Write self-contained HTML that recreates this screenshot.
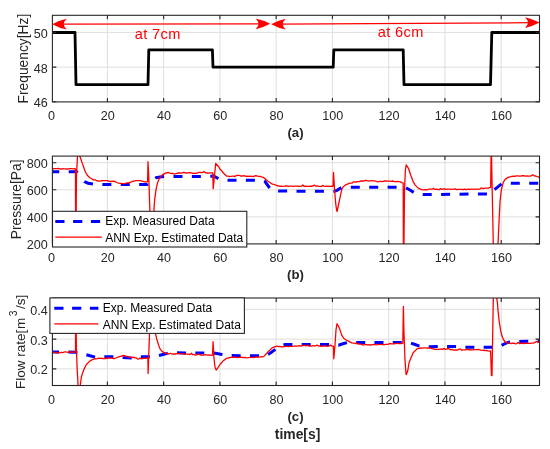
<!DOCTYPE html><html><head><meta charset="utf-8"><title>Figure</title><style>html,body{margin:0;padding:0;background:#fff;width:550px;height:449px;overflow:hidden}svg{display:block}text{font-family:'Liberation Sans', Arial, Helvetica, sans-serif}</style></head><body>
<svg width="550" height="449" viewBox="0 0 550 449">
<rect width="550" height="449" fill="#fff"/>
<defs>
<clipPath id="c0"><rect x="52.4" y="15.3" width="487.1" height="86.6"/></clipPath>
<clipPath id="c1"><rect x="52.4" y="156.1" width="487.1" height="87.8"/></clipPath>
<clipPath id="c2"><rect x="52.4" y="298" width="487.1" height="87.5"/></clipPath>
</defs>
<path d="M107.4 15.3V101.9M163.66 15.3V101.9M219.91 15.3V101.9M276.17 15.3V101.9M332.43 15.3V101.9M388.69 15.3V101.9M444.95 15.3V101.9M501.2 15.3V101.9M52.4 67.1H539.5M52.4 32.4H539.5" stroke="#dedede" stroke-width="1" fill="none"/>
<polyline clip-path="url(#c0)" points="52.4,32.5 75,32.5 76,84.6 148,84.6 148.8,49.9 212.4,49.9 213,67.2 333.2,67.2 333.8,49.9 403.2,49.9 404,84.6 490.5,84.6 491.8,32.5 539.4,32.5" fill="none" stroke="#000" stroke-width="2.8" stroke-linejoin="round"/>
<rect x="52.4" y="15.3" width="487.1" height="86.6" fill="none" stroke="#262626" stroke-width="1.1"/>
<path d="M107.4 101.9v-3.9M107.4 15.3v3.9M163.66 101.9v-3.9M163.66 15.3v3.9M219.91 101.9v-3.9M219.91 15.3v3.9M276.17 101.9v-3.9M276.17 15.3v3.9M332.43 101.9v-3.9M332.43 15.3v3.9M388.69 101.9v-3.9M388.69 15.3v3.9M444.95 101.9v-3.9M444.95 15.3v3.9M501.2 101.9v-3.9M501.2 15.3v3.9M52.4 101.8h3.9M539.5 101.8h-3.9M52.4 67.1h3.9M539.5 67.1h-3.9M52.4 32.4h3.9M539.5 32.4h-3.9" stroke="#262626" stroke-width="1.1" fill="none"/>
<g font-size="12.6" fill="#262626">
<text x="51.6" y="120.1" text-anchor="middle">0</text>
<text x="107.7" y="120.1" text-anchor="middle">20</text>
<text x="163.96" y="120.1" text-anchor="middle">40</text>
<text x="220.21" y="120.1" text-anchor="middle">60</text>
<text x="276.47" y="120.1" text-anchor="middle">80</text>
<text x="332.73" y="120.1" text-anchor="middle">100</text>
<text x="388.99" y="120.1" text-anchor="middle">120</text>
<text x="445.25" y="120.1" text-anchor="middle">140</text>
<text x="501.5" y="120.1" text-anchor="middle">160</text>
<text x="47.8" y="107.2" text-anchor="end">46</text>
<text x="47.8" y="72.5" text-anchor="end">48</text>
<text x="47.8" y="37.8" text-anchor="end">50</text>
</g>
<line x1="60" y1="24.1" x2="262" y2="23.8" stroke="#ff0000" stroke-width="1.25"/>
<path d="M52.2 24.2 Q59.4 20.3 66.8 18.8 Q63.8 21.6 63.8 24.2 Q63.8 26.8 66.8 29.6 Q59.4 28.1 52.2 24.2Z" fill="#ff0000"/>
<path d="M270.2 23.8 Q263 19.9 255.6 18.4 Q258.6 21.2 258.6 23.8 Q258.6 26.4 255.6 29.2 Q263 27.7 270.2 23.8Z" fill="#ff0000"/>
<line x1="279" y1="24.1" x2="531" y2="22.7" stroke="#ff0000" stroke-width="1.25"/>
<path d="M271.2 24.2 Q278.4 20.3 285.8 18.8 Q282.8 21.6 282.8 24.2 Q282.8 26.8 285.8 29.6 Q278.4 28.1 271.2 24.2Z" fill="#ff0000"/>
<path d="M539.6 22.6 Q532.4 18.7 525 17.2 Q528 20 528 22.6 Q528 25.2 525 28 Q532.4 26.5 539.6 22.6Z" fill="#ff0000"/>
<text x="134.8" y="39" font-size="14.6" letter-spacing="0.35" fill="#ff0000">at 7cm</text>
<text x="377.8" y="36.8" font-size="14.6" letter-spacing="0.35" fill="#ff0000">at 6cm</text>
<text x="295.5" y="136.9" font-size="13.2" font-weight="bold" fill="#262626" text-anchor="middle">(a)</text>
<text transform="translate(27.9,58.6) rotate(-90)" font-size="13.8" fill="#262626" text-anchor="middle">Frequency[Hz]</text>
<path d="M107.4 156.1V243.9M163.66 156.1V243.9M219.91 156.1V243.9M276.17 156.1V243.9M332.43 156.1V243.9M388.69 156.1V243.9M444.95 156.1V243.9M501.2 156.1V243.9M52.4 216.9H539.5M52.4 189.8H539.5M52.4 162.7H539.5" stroke="#dedede" stroke-width="1" fill="none"/>
<g clip-path="url(#c1)">
<polyline points="52.4,171.7 75.5,171.8 77,172.2 79,174.5" fill="none" stroke="#0000ff" stroke-width="3" stroke-dasharray="9 9.4" stroke-dashoffset="2.1"/>
<polyline points="79,174.5 81,177.5 84.4,181.6 88,183.2 93,184 102,184.4 110,184.4 120,184.5 147,184.6 149,183 152,180 156,177.8 160,177 165.4,176.4 175,176.5 200,176.5 212,176.3 213,175.7 216,177.3 219,179 222,180 228.5,180.3 255,180.3 263.6,180.6 264.7,181.2 270.7,189.4 274,190.6 278.3,191.1 332.3,191.2 334.5,191.2 337,190.3 339,189 341.7,187.5 351.2,187.2 368.8,187.3 397.2,187.3 403.5,187.5 405.9,187.8 410,190 415.2,193.3 419,194.3 422.8,194.6 433,194.5 486,193.9 491,193.5 494.5,189.5 502.1,183.5 506,183.3 539.4,183.3" fill="none" stroke="#0000ff" stroke-width="3" stroke-dasharray="9 9.4" stroke-dashoffset="9.5"/>
<polyline points="52.4,169 54.2,168.62 56,168.6 57.33,168.64 58.67,168.41 60,169 61.33,169.17 62.67,168.68 64,168.8 65.33,168.88 66.67,168.98 68,169.1 69.65,168.66 71.3,168.7 73.1,168.96 74.9,168.7 75.5,169.5 75.6,250 75.8,250 76.5,175 77.5,156 78.6,140 79.8,156 81,159.5 82.3,163.4 83.6,167 85.4,172 87.3,175.2 89.5,177.5 92.5,179.3 93.9,179.94 95.3,179.93 96.7,180.7 98.55,181.01 100.4,181.2 102,180.62 103.6,180.7 105.45,180.63 107.3,180.6 109.1,181.32 110.9,181.5 113.8,181.1 116.7,182.5 118.55,183.19 120.4,183.3 122.1,183.51 123.8,183.6 125.5,183.3 127.3,182.82 129.1,182.9 131.3,181.8 132.73,181.24 134.17,181.02 135.6,180.7 137.23,180.56 138.87,180.62 140.5,180.7 142.15,181.21 143.8,181.6 145.45,181.98 147.1,181.8 147.6,181.5 148,161.7 148.7,175 150,215 150.5,250 153.4,250 154,208.6 154.7,199.2 156,189.8 157.4,183.1 159.4,178.4 162.1,175.1 165.4,173.1 168.3,172.5 169.65,173.13 171,173.49 172.35,173.24 173.7,173.8 175.27,173.93 176.85,173.45 178.43,173 180,173 181.36,173.05 182.72,172.69 184.08,172.37 185.44,172.94 186.8,173 188.35,172.93 189.9,172.54 191.45,172.91 193,173.3 194.33,173.05 195.67,173.37 197,173.25 198.33,172.47 199.67,172.31 201,172.5 202.5,172.56 204,171.5 205.5,172.74 207,173 208.45,173.23 209.9,172.87 211.35,172.95 212.8,172.8 213.2,188.8 215.7,163.5 218.5,166.5 220,169.2 221.7,170.8 223.3,173 226.5,176 227.97,176.14 229.43,176.51 230.9,176.3 232.26,176.21 233.62,176.04 234.99,176.52 236.35,175.42 237.71,175.3 239.08,175.29 240.44,176.01 241.8,176 243.13,175.95 244.47,175.71 245.8,176.29 247.13,176.05 248.47,176.34 249.8,176.24 251.13,176.3 252.47,176.3 253.8,176.5 255.45,175.59 257.1,176 258.4,176.44 259.7,176.37 261,176.66 262.3,177.07 263.6,177.4 268,181.2 272.4,184.2 273.83,184.35 275.27,184.95 276.7,185.5 278.35,185.86 280,186.3 281.43,186.05 282.86,186.38 284.29,186.22 285.71,185.98 287.14,186.01 288.57,186.45 290,186.2 291.43,186.06 292.86,186.33 294.29,186.13 295.71,186.11 297.14,186.11 298.57,186.23 300,186.3 301.43,186.21 302.86,184.95 304.29,186.48 305.71,186.14 307.14,186.46 308.57,186.3 310,186.1 311.43,186.24 312.86,186.01 314.29,185.14 315.71,186.07 317.14,185.92 318.57,186.41 320,186.3 321.3,186.58 322.6,185.41 323.9,186.07 325.2,186.41 326.5,186.24 327.8,186.38 329.1,186.13 330.4,186.28 331.7,186.2 333,186.3 333.5,172.3 334.5,189 335.7,203.5 336.7,210.7 337.1,211.4 338.8,203.5 340.3,196.2 341.7,189.7 343.2,186.8 346.1,184.6 347.53,184.16 348.97,183.44 350.4,183.2 351.85,183.2 353.3,181.95 354.75,181.87 356.2,182 357.66,181.64 359.12,181.55 360.58,181.02 362.04,180.94 363.5,181 364.8,180.7 366.1,180.44 367.4,180.87 368.7,180.9 370,181 371.5,180.5 372.82,180.82 374.14,180.8 375.46,181.02 376.78,181.69 378.1,181.8 379.4,181.35 380.7,181.39 382,181.52 383.3,181.37 384.6,181 385.91,181 387.22,181.1 388.53,181.09 389.84,181.17 391.15,181.28 392.46,181 393.77,181.3 395.08,181.71 396.39,181.73 397.7,181.5 399.07,181.68 400.45,181.94 401.82,182.66 403.2,182.9 403.4,250 403.9,250 404.5,190 405.4,170 406.2,164.9 408.6,168.7 410.8,175.3 413,181.3 415.2,185.1 418.5,188.4 421.7,189.7 423.35,189.9 425,189.7 426.43,189.82 427.86,189.34 429.29,189.22 430.71,189.13 432.14,189.21 433.57,188.22 435,189.4 436.36,189.12 437.73,189.49 439.09,189.66 440.45,188.58 441.82,189.32 443.18,189.02 444.55,188.86 445.91,189.3 447.27,189.06 448.64,189.04 450,189.2 451.33,189.39 452.67,189.13 454,189.14 455.33,188.96 456.67,189.6 458,189.45 459.33,189.43 460.67,189.43 462,189.31 463.33,189.61 464.67,189.06 466,189.65 467.33,189.33 468.67,189.17 470,189.4 471.43,189.15 472.86,189.18 474.29,189.41 475.71,189.09 477.14,189.12 478.57,189.2 480,189.1 481.35,187.88 482.7,188.57 484.05,188.33 485.4,188.2 486.72,188.14 488.05,188.04 489.38,187.52 490.7,187.2 491.2,140 493.4,250 494.83,250.23 496.27,250.04 497.7,250 499.4,214 500.1,200.9 501.4,189.5 503.4,182.1 505.3,179.2 508,177.4 509.8,177 511.6,176.3 513.15,176.13 514.7,176.42 516.25,175.81 517.8,175.9 519.28,176.05 520.77,176.22 522.25,175.72 523.73,175.73 525.22,176.04 526.7,175.9 528.18,176.2 529.67,176.19 531.15,175.9 532.63,174.69 534.12,175.84 535.6,176 539.4,177.4" fill="none" stroke="#ff0000" stroke-width="1.3" stroke-linejoin="round"/>
</g>
<rect x="52.4" y="156.1" width="487.1" height="87.8" fill="none" stroke="#262626" stroke-width="1.1"/>
<path d="M107.4 243.9v-3.9M107.4 156.1v3.9M163.66 243.9v-3.9M163.66 156.1v3.9M219.91 243.9v-3.9M219.91 156.1v3.9M276.17 243.9v-3.9M276.17 156.1v3.9M332.43 243.9v-3.9M332.43 156.1v3.9M388.69 243.9v-3.9M388.69 156.1v3.9M444.95 243.9v-3.9M444.95 156.1v3.9M501.2 243.9v-3.9M501.2 156.1v3.9M52.4 244h3.9M539.5 244h-3.9M52.4 216.9h3.9M539.5 216.9h-3.9M52.4 189.8h3.9M539.5 189.8h-3.9M52.4 162.7h3.9M539.5 162.7h-3.9" stroke="#262626" stroke-width="1.1" fill="none"/>
<g font-size="12.6" fill="#262626">
<text x="51.6" y="262.1" text-anchor="middle">0</text>
<text x="107.7" y="262.1" text-anchor="middle">20</text>
<text x="163.96" y="262.1" text-anchor="middle">40</text>
<text x="220.21" y="262.1" text-anchor="middle">60</text>
<text x="276.47" y="262.1" text-anchor="middle">80</text>
<text x="332.73" y="262.1" text-anchor="middle">100</text>
<text x="388.99" y="262.1" text-anchor="middle">120</text>
<text x="445.25" y="262.1" text-anchor="middle">140</text>
<text x="501.5" y="262.1" text-anchor="middle">160</text>
<text x="47.8" y="249.4" text-anchor="end">200</text>
<text x="47.8" y="222.3" text-anchor="end">400</text>
<text x="47.8" y="195.2" text-anchor="end">600</text>
<text x="47.8" y="168.1" text-anchor="end">800</text>
</g>
<text x="295.5" y="279.2" font-size="13.2" font-weight="bold" fill="#262626" text-anchor="middle">(b)</text>
<text transform="translate(21.2,199.4) rotate(-90)" font-size="13.8" fill="#262626" text-anchor="middle">Pressure[Pa]</text>
<rect x="52.5" y="211.3" width="194.3" height="35.7" fill="#fff" stroke="#262626" stroke-width="1.1"/>
<line x1="55.3" y1="221.6" x2="101.9" y2="221.6" stroke="#0000ff" stroke-width="3" stroke-dasharray="9.2 8.6"/>
<line x1="55.3" y1="237.2" x2="101.9" y2="237.2" stroke="#ff0000" stroke-width="1.3"/>
<text x="105.2" y="225.1" font-size="12" fill="#000">Exp. Measured Data</text>
<text x="105.2" y="242" font-size="12" fill="#000">ANN Exp. Estimated Data</text>
<path d="M107.4 298V385.5M163.66 298V385.5M219.91 298V385.5M276.17 298V385.5M332.43 298V385.5M388.69 298V385.5M444.95 298V385.5M501.2 298V385.5M52.4 368.9H539.5M52.4 339.1H539.5M52.4 309.3H539.5" stroke="#dedede" stroke-width="1" fill="none"/>
<g clip-path="url(#c2)">
<polyline points="52.4,352 60,352 75,352.2 77.8,352.5 80,353 83,354 86.1,354.7 90,355.8 95.5,357.2 100,357 104.8,356.8 113.5,356.8 122.8,357.6 131.5,357.9 140.8,356.8 148.5,356.8 150,357 155,356.5 158.9,355.6 163,354.5 167.3,353.4 172,353 176.8,352.8 185.9,352.9 203.6,352.9 212,353 213.7,353 217,353.6 221.9,354.5 226,355.2 230.6,355.6 240,355.7 257.4,355.8 265,355.8 267.2,355 271,352.5 275.9,349 280,346 285.2,344.6 293.4,344.6 329.3,344.6 334,344.8 338.5,345.2 343,343.8 347.3,342.5 357.5,342.5 402,342.4 405,342.5 410.5,342.9 415,344.5 419.4,346.1 425,346.8 437.5,346.6 455.5,346.6 464.3,347.2 473.5,347.2 483,347.2 490.6,347.3 494,347.2 497,346.8 501.4,345.5 505,343.5 508.7,342.2 512,341.8 518.8,341.5 539.4,341" fill="none" stroke="#0000ff" stroke-width="3" stroke-dasharray="9 9.3" stroke-dashoffset="2.3"/>
<polyline points="52.4,352.2 54.2,352.44 56,352.5 57.33,352.81 58.67,352.87 60,352.8 61.33,352.27 62.67,352.71 64,352.2 65.33,351.75 66.67,352.16 68,352.4 69.33,351.66 70.67,351.98 72,352 73.75,352.29 75.5,352.2 75.8,290 76.1,290 76.2,334 76.5,352 77.2,370 78.1,385.5 79.6,387 80.3,385 81.4,376.8 83.6,370.1 86.4,364.5 90.3,360.6 94.8,358.7 96.1,358.81 97.4,358.58 98.7,358.05 100,358.3 101.47,358.15 102.95,358.74 104.43,358.3 105.9,358.5 107.28,358.38 108.65,357.99 110.03,358.18 111.4,357.9 113,358.48 114.6,358.5 120.1,356.3 121.62,356.24 123.14,355.43 124.66,355.59 126.18,356.35 127.7,356.5 129.17,357.12 130.63,357.17 132.1,357.7 133.4,357.08 134.7,357.97 136,357.88 137.3,358.81 138.6,359.2 139.97,357.94 141.35,358.97 142.72,358.55 144.1,358.1 145.75,358.31 147.4,357.9 147.9,358.5 148.1,373.5 149.5,334 150.6,300 153,290 155.6,334 156.7,338.9 158.4,344.5 160,348.9 162.3,351.7 165.6,353.4 167.3,353.6 169,354 170.47,353.25 171.93,354.21 173.4,354 175,354 176.67,353.54 178.33,353.45 180,353.6 181.47,353.83 182.95,353.79 184.43,354.08 185.9,354.2 187.26,354.16 188.62,354.08 189.99,354.59 191.35,353.24 192.71,354.66 194.08,354.54 195.44,355.04 196.8,354.9 198.16,353.84 199.53,354.62 200.89,355.21 202.25,355.16 203.61,355.12 204.97,354.77 206.34,354.83 207.7,355.1 209.3,354.96 210.9,355.45 212.5,355.1 213.1,341.7 213.9,357.3 215,367.3 216.2,370.1 217.8,367.9 220,364.5 223.4,360.6 226.7,358.2 228.4,358.08 230.1,357.3 231.51,357.29 232.93,357.29 234.34,357.23 235.76,357.21 237.17,357.62 238.59,357.3 240,357.3 241.47,357.11 242.95,357.7 244.43,357.5 245.9,357.7 247.21,357.84 248.52,357.71 249.83,357.45 251.14,357.35 252.45,357.64 253.76,357.26 255.07,357.45 256.38,356.96 257.69,357.08 259,357.2 260.63,356.91 262.27,356.77 263.9,356.4 267.7,352.3 272.1,347.9 275.9,346.3 277.27,346.24 278.63,346.57 280,346.35 281.37,346.76 282.73,346.88 284.1,346.6 285.46,346.54 286.83,346.22 288.19,346.68 289.55,346.43 290.91,346.39 292.27,346.35 293.64,346.19 295,346 296.36,346.1 297.73,346.11 299.09,345.7 300.45,346 301.82,345.85 303.18,345.35 304.55,345.26 305.91,345.94 307.27,345.08 308.64,346.01 310,346.1 311.38,346.16 312.75,345.62 314.13,345.94 315.51,345.83 316.88,345.14 318.26,345.82 319.64,345.99 321.01,346.42 322.39,346.04 323.76,346.2 325.14,345.85 326.52,346.14 327.89,346.43 329.27,346 330.65,344.91 332.02,346.18 333.4,346.1 333.8,358.8 335,345 336,330 337,323.7 338,325.5 339.5,328.4 341.7,335.1 343.9,338.5 347.3,340.7 351.7,342.9 353.2,343.19 354.7,343.21 356.2,343.5 359.2,344.2 360.72,344.11 362.24,344.73 363.76,344.82 365.28,344.67 366.8,344.7 368.16,345.04 369.52,344.64 370.89,345.04 372.25,344.55 373.61,344.44 374.98,344.66 376.34,344.9 377.7,344.7 379.06,344.3 380.43,344.42 381.79,344.71 383.15,344.29 384.51,344.73 385.88,344.4 387.24,344.36 388.6,344.2 389.96,343.34 391.33,343.91 392.69,343.86 394.05,343.92 395.41,343.73 396.77,343.14 398.14,343.64 399.5,343.6 401.15,343.62 402.8,343.1 403.4,306.3 403.9,330 405,360 406,374.1 406.4,374.6 407.8,370.5 409,363 410.5,358.9 413.2,352.7 416.8,349.1 418.27,348.36 419.73,348.25 421.2,347.9 422.56,348.05 423.92,347.89 425.28,347.82 426.64,348.15 428,347.9 429.32,348.01 430.63,348.1 431.95,348.79 433.27,348.75 434.58,349.44 435.9,349.4 437.26,349.35 438.62,349.32 439.99,349.04 441.35,348.8 442.71,349.44 444.07,348.36 445.44,349.47 446.8,349.1 448.16,348.38 449.52,349.18 450.89,349.83 452.25,349.39 453.61,350.08 454.98,350 456.34,349.83 457.7,350.2 459.06,349.1 460.43,348.97 461.79,350.26 463.15,349.79 464.51,349.88 465.88,349.97 467.24,348.93 468.6,349.9 469.96,349.62 471.33,349.83 472.69,349.83 474.05,349.58 475.41,349.54 476.77,349.69 478.14,349.45 479.5,349.6 480.88,350.04 482.25,350.3 483.62,350.13 485,350.7 486.4,350.49 487.8,350.92 489.2,351.19 490.6,351 491.4,375.6 492,375.6 493.3,298 495,280 496.7,298 497.4,302.7 498.3,313.4 499.4,322.8 500.7,330.8 502,336.1 503.4,339.5 505.4,342.2 508.1,343.1 509.75,343.18 511.4,343.5 512.75,343.2 514.1,343.24 515.45,343.89 516.8,343.6 518.12,342.32 519.44,343.68 520.76,343.29 522.08,343.42 523.4,343.5 524.72,343.34 526.04,343.31 527.36,343.13 528.68,343.44 530,343.3 531.33,343.12 532.67,343.05 534,342.95 535.33,342.14 536.67,341.4 538,342.5 539.4,342" fill="none" stroke="#ff0000" stroke-width="1.3" stroke-linejoin="round"/>
</g>
<rect x="52.4" y="298" width="487.1" height="87.5" fill="none" stroke="#262626" stroke-width="1.1"/>
<path d="M107.4 385.5v-3.9M107.4 298v3.9M163.66 385.5v-3.9M163.66 298v3.9M219.91 385.5v-3.9M219.91 298v3.9M276.17 385.5v-3.9M276.17 298v3.9M332.43 385.5v-3.9M332.43 298v3.9M388.69 385.5v-3.9M388.69 298v3.9M444.95 385.5v-3.9M444.95 298v3.9M501.2 385.5v-3.9M501.2 298v3.9M52.4 368.9h3.9M539.5 368.9h-3.9M52.4 339.1h3.9M539.5 339.1h-3.9M52.4 309.3h3.9M539.5 309.3h-3.9" stroke="#262626" stroke-width="1.1" fill="none"/>
<g font-size="12.6" fill="#262626">
<text x="51.6" y="403.7" text-anchor="middle">0</text>
<text x="107.7" y="403.7" text-anchor="middle">20</text>
<text x="163.96" y="403.7" text-anchor="middle">40</text>
<text x="220.21" y="403.7" text-anchor="middle">60</text>
<text x="276.47" y="403.7" text-anchor="middle">80</text>
<text x="332.73" y="403.7" text-anchor="middle">100</text>
<text x="388.99" y="403.7" text-anchor="middle">120</text>
<text x="445.25" y="403.7" text-anchor="middle">140</text>
<text x="501.5" y="403.7" text-anchor="middle">160</text>
<text x="47.8" y="374.3" text-anchor="end">0.2</text>
<text x="47.8" y="344.5" text-anchor="end">0.3</text>
<text x="47.8" y="314.7" text-anchor="end">0.4</text>
</g>
<rect x="49.9" y="297.9" width="194.5" height="35.5" fill="#fff" stroke="#262626" stroke-width="1.1"/>
<line x1="54.3" y1="308.2" x2="98.4" y2="308.2" stroke="#0000ff" stroke-width="3" stroke-dasharray="9.2 8.6"/>
<line x1="54.3" y1="323.8" x2="98.4" y2="323.8" stroke="#ff0000" stroke-width="1.3"/>
<text x="102.8" y="311.7" font-size="12" fill="#000">Exp. Measured Data</text>
<text x="102.8" y="328.6" font-size="12" fill="#000">ANN Exp. Estimated Data</text>
<text x="295.5" y="421.1" font-size="13.2" font-weight="bold" fill="#262626" text-anchor="middle">(c)</text>
<text x="297.6" y="439" font-size="13.9" font-weight="bold" fill="#262626" text-anchor="middle">time[s]</text>
<text transform="translate(24.6,388.9) rotate(-90)" font-size="13.5" fill="#262626">Flow rate[<tspan dx="0.6">m</tspan><tspan dx="1.6" dy="-7.2" font-size="10.4">3</tspan><tspan dx="1.4" dy="7.2">/s]</tspan></text>
</svg></body></html>
